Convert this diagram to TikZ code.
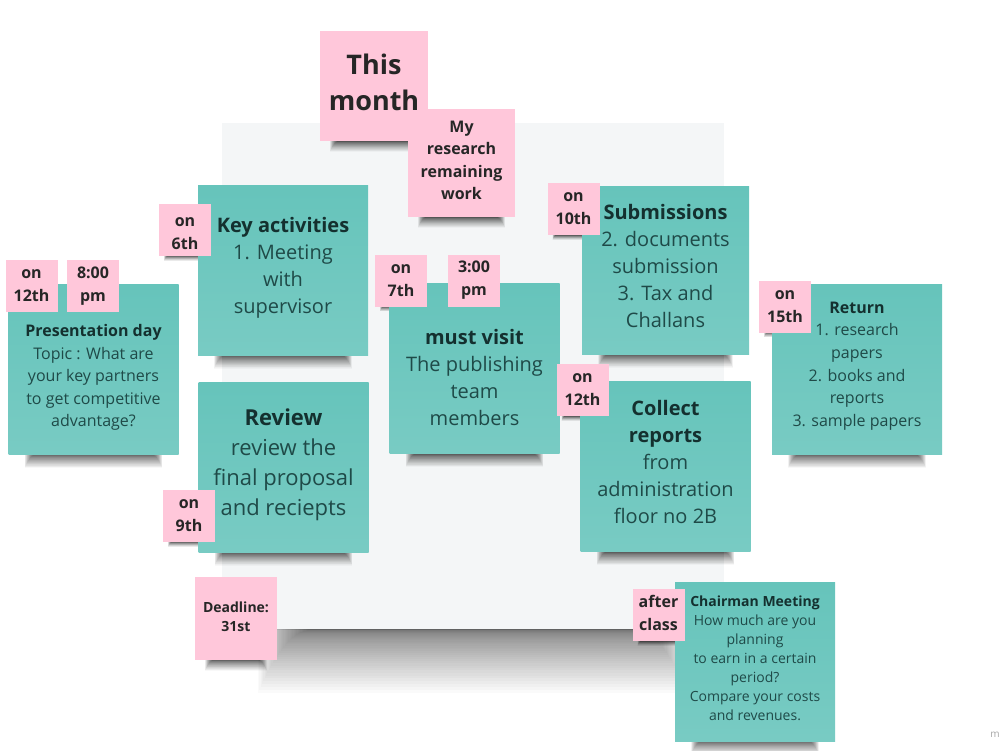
\documentclass[tikz,border=0pt]{standalone}
\usepackage{fontspec}
\setmainfont{Open Sans}
\usetikzlibrary{calc,backgrounds}
\definecolor{pinknote}{HTML}{FFC7DA}
\definecolor{tealnote}{HTML}{66C4BB}
\definecolor{tealtext}{HTML}{1F4A48}
\definecolor{tealhead}{HTML}{14302F}
\definecolor{boardgrey}{HTML}{F4F6F7}
\newcommand{\fs}[2]{\fontsize{#1}{#2}\selectfont}
\newcommand{\hd}[1]{\textcolor{tealhead}{\textbf{#1}}}
% lines of a note, moved up by #1
\newcommand{\nudge}[2]{\raisebox{#1}[0pt][0pt]{\begin{tabular}[c]{@{}c@{}}#2\end{tabular}}}
% soft shadow under a note: strength, node, inset, depth
\newcommand{\noteshadow}[4][0.026]{
\begin{scope}[on background layer]
\foreach \i in {1,...,40}
  \fill[black,opacity=#1] ($(#2.south west)+({#3+\i*#4*0.02},-1)$) rectangle ($(#2.south east)+({-#3-\i*#4*0.02},{#4*(1-\i/41)*(1-\i/41)})$);
\end{scope}
}
\tikzset{
  pinkbox/.style={fill=pinknote,text=black!85,align=center,inner sep=0pt,font=\fs{16}{23}\bfseries},
  tagbox/.style={pinkbox,minimum width=52pt,minimum height=52pt},
  tealbox/.style={top color=tealnote,bottom color=tealnote!88!white,text=tealtext,align=center,inner sep=0pt,minimum width=170pt,minimum height=170pt,font=\fs{20}{27}},
  smallbox/.style={tealbox,font=\fs{16}{22.6}},
}
\begin{document}
\begin{tikzpicture}[x=1pt,y=-1pt]
\useasboundingbox (0,0) rectangle (1000,750);
\begin{scope}[on background layer]
\node[fill=boardgrey,minimum width=502pt,minimum height=507pt,inner sep=0pt] (board) at (473,376.5) {};
\end{scope}
\noteshadow[0.018]{board}{35}{66}
% teal notes
\node[tealbox] (keyact) at (283,270) {\nudge{-3pt}{\hd{Key activities}\\1. Meeting\\with\\supervisor}};
\node[smallbox] (present) at (93.5,369.5) {\nudge{-12pt}{\hd{Presentation day}\\Topic : What are\\your key partners\\to get competitive\\advantage?}};
\node[tealbox] (visit) at (474.5,368.5) {\nudge{-16pt}{\hd{must visit}\\The publishing\\team\\members}};
\node[tealbox,minimum width=167pt,minimum height=168pt] (submit) at (665.5,270) {\nudge{-3pt}{\hd{Submissions}\\2. documents\\submission\\3. Tax and\\Challans}};
\node[smallbox] (return) at (857,369.5) {\nudge{0pt}{\hd{Return}\\1. research\\papers\\2. books and\\reports\\3. sample papers}};
\node[tealbox,font=\fs{22}{30}] (review) at (283.5,467) {\nudge{-3pt}{\hd{Review}\\review the\\final proposal\\and reciepts}};
\node[tealbox] (collect) at (665.5,466.5) {\nudge{-3pt}{\hd{Collect}\\\hd{reports}\\from\\administration\\floor no 2B}};
\node[tealbox,minimum width=160pt,minimum height=159pt,font=\fs{14}{19}] (chair) at (755,661.5) {\nudge{-2pt}{\hd{Chairman Meeting}\\How much are you\\planning\\to earn in a certain\\period?\\Compare your costs\\and revenues.}};
% pink notes
\node[pinkbox,minimum width=107pt,minimum height=108pt,font=\fs{16}{22.5}\bfseries] (research) at (461.5,163) {\nudge{-3pt}{My\\research\\remaining\\work}};
\node[pinkbox,minimum width=108pt,minimum height=110pt,font=\fs{27}{36}\bfseries] (month) at (374,86) {\nudge{-6pt}{This\\month}};
\node[tagbox] (on6) at (185,230) {\nudge{-8pt}{on\\6th}};
\node[tagbox] (on12a) at (31.5,286) {on\\12th};
\node[tagbox] (at8) at (93,286) {8:00\\pm};
\node[tagbox] (on7) at (401,280.5) {on\\7th};
\node[tagbox] (at3) at (474,280.5) {3:00\\pm};
\node[tagbox] (on10) at (573.5,209) {on\\10th};
\node[tagbox] (on15) at (785,306.5) {on\\15th};
\node[tagbox] (on9) at (189,516) {on\\9th};
\node[tagbox] (on12b) at (582.5,390) {on\\12th};
\node[pinkbox,minimum width=82pt,minimum height=83pt,font=\fs{14}{19}\bfseries] (deadline) at (236,618.5) {\nudge{-3pt}{Deadline:\\31st}};
\node[tagbox] (after) at (658.5,615) {\nudge{-4pt}{after\\class}};
\node[text=black!35,font=\fs{10}{12},inner sep=0pt] (mark) at (995,735) {m};
% shadows
\foreach \n in {keyact,present,visit,submit,return,review,collect,chair} {\noteshadow{\n}{16}{14}}
\foreach \n in {month,research,deadline} {\noteshadow{\n}{10}{11}}
\foreach \n in {on6,on12a,at8,on7,at3,on10,on15,on9,on12b,after} {\noteshadow{\n}{5}{5}}
\end{tikzpicture}
\end{document}
